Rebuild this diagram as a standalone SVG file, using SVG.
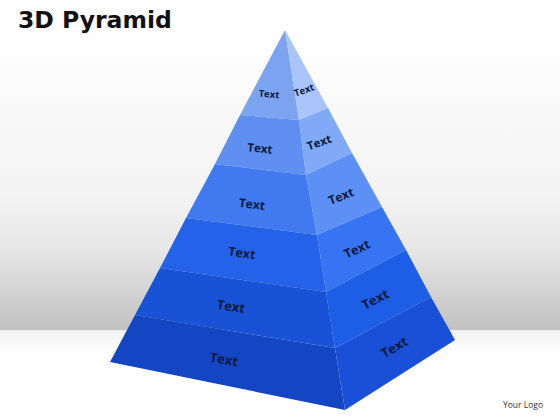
<svg xmlns="http://www.w3.org/2000/svg" width="560" height="420" viewBox="0 0 560 420">
<defs>
<linearGradient id="bg" x1="0" y1="0" x2="0" y2="330" gradientUnits="userSpaceOnUse">
<stop offset="0" stop-color="#ffffff"/>
<stop offset="0.13" stop-color="#fefefe"/>
<stop offset="0.6" stop-color="#f3f3f3"/>
<stop offset="0.76" stop-color="#e6e6e6"/>
<stop offset="1" stop-color="#c1c1c1"/>
</linearGradient>
<linearGradient id="floor" x1="0" y1="330" x2="0" y2="355" gradientUnits="userSpaceOnUse">
<stop offset="0" stop-color="#f1f1f1"/>
<stop offset="1" stop-color="#ffffff"/>
</linearGradient>
<style>
.lbl{font-family:"Open Sans","Liberation Sans",sans-serif;font-weight:bold;fill:#0d1a3c;text-anchor:middle;dominant-baseline:central}
.title{font-family:"DejaVu Sans",sans-serif;font-weight:bold;font-size:23.5px;fill:#111}
.logo{font-family:"Open Sans","Liberation Sans",sans-serif;font-size:8.5px;fill:#333}
</style>
</defs>
<rect x="0" y="0" width="560" height="330" fill="url(#bg)"/>
<rect x="0" y="330" width="560" height="90" fill="url(#floor)"/>
<text class="title" x="18" y="28">3D Pyramid</text>

<g id="layer1">
<polygon points="285,30 240,115 299,120" fill="#7ca3f0"/>
<polygon points="285,30 299,120 328,108" fill="#a8c4f8"/>
<text class="lbl" font-size="9.5" transform="translate(269,94) rotate(5)">Text</text>
<text class="lbl" font-size="9.5" transform="translate(304,90) rotate(-20)">Text</text>
</g>
<g id="layer2">
<polygon points="240,115 215,164 306,175 299,120" fill="#5f8ff0"/>
<polygon points="299,120 306,175 352,153 328,108" fill="#80a9f6"/>
<text class="lbl" font-size="11.5" transform="translate(260,148) rotate(6)">Text</text>
<text class="lbl" font-size="11.5" transform="translate(319,142) rotate(-20)">Text</text>
</g>
<g id="layer3">
<polygon points="215,164 186,218 317,235 306,175" fill="#4079f0"/>
<polygon points="306,175 317,235 382,207 352,153" fill="#5c90f5"/>
<text class="lbl" font-size="12" transform="translate(252,204) rotate(7)">Text</text>
<text class="lbl" font-size="12" transform="translate(341,196) rotate(-22)">Text</text>
</g>
<g id="layer4">
<polygon points="186,218 160,268 326,292 317,235" fill="#2462ea"/>
<polygon points="317,235 326,292 406,250 382,207" fill="#3674f3"/>
<text class="lbl" font-size="12.5" transform="translate(242,253) rotate(8)">Text</text>
<text class="lbl" font-size="12.5" transform="translate(357,249) rotate(-25)">Text</text>
</g>
<g id="layer5">
<polygon points="160,268 135,315 335,348 326,292" fill="#1852d6"/>
<polygon points="326,292 335,348 431,297 406,250" fill="#1e5ee6"/>
<text class="lbl" font-size="13" transform="translate(231,306) rotate(9)">Text</text>
<text class="lbl" font-size="13" transform="translate(375,299) rotate(-27)">Text</text>
</g>
<g id="layer6">
<polygon points="135,315 110,362 345,410 335,348" fill="#1446c4"/>
<polygon points="335,348 345,410 455,340 431,297" fill="#1a50d8"/>
<text class="lbl" font-size="13" transform="translate(224,359) rotate(10)">Text</text>
<text class="lbl" font-size="13" transform="translate(394,347) rotate(-30)">Text</text>
</g>
<g id="connectors"/>
<text class="logo" x="503" y="408">Your Logo</text>
</svg>
